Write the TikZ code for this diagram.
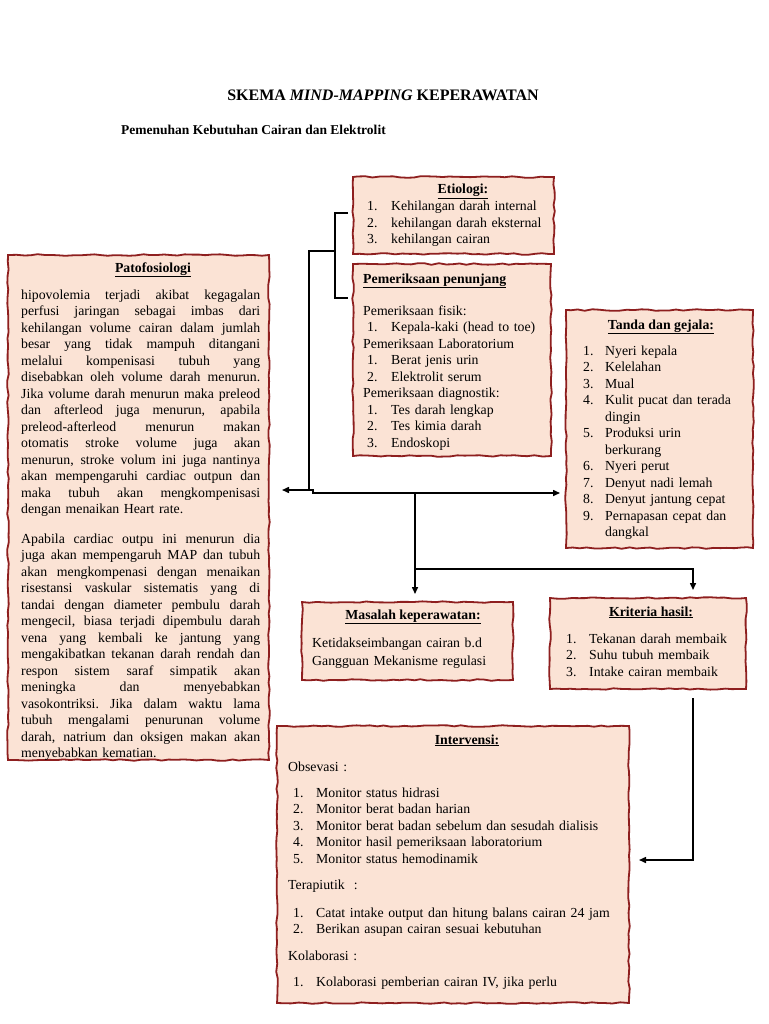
\documentclass[tikz,border=0pt]{standalone}
\usepackage{fontspec}
\setmainfont{Liberation Serif}
\usetikzlibrary{arrows.meta,decorations.pathmorphing}
\definecolor{boxfill}{HTML}{FBE3D5}
\definecolor{boxline}{HTML}{8E1F1F}
\newcommand\bodyfs{\fontsize{13.8}{16.5}\selectfont}
\newcommand\jline[1]{\leavevmode\hbox to 239pt{\spaceskip=3.4pt plus 20pt minus 1pt\xspaceskip=\spaceskip #1}}
\newcommand\numit[3]{\makebox[#1][l]{#2}#3}
\begin{document}
\begin{tikzpicture}[x=1pt,y=-1pt,
  box/.style={draw=boxline, fill=boxfill, line width=1.8pt, decorate,
    decoration={random steps,segment length=7pt,amplitude=0.8pt},
    inner sep=0pt, outer sep=0pt, anchor=north west},
  txt/.style={anchor=base west, inner sep=0pt, align=left, font=\bodyfs, text width=#1},
  txt/.default=300pt,
  ttl/.style={anchor=base, inner sep=0pt, font=\bodyfs\bfseries},
  conn/.style={line width=1.5pt, black},
  arr/.style={conn, -{Triangle[length=7pt,width=6pt]}}]
\pgfmathsetseed{7}
\useasboundingbox (0,0) rectangle (768,1024);
\fill[white] (0,0) rectangle (768,1024);

% titles
\node[anchor=base, inner sep=0pt, font=\fontsize{16}{18}\selectfont\bfseries] (title) at (383,101) {SKEMA \textit{MIND-MAPPING} KEPERAWATAN};
\node[anchor=base west, inner sep=0pt, font=\fontsize{13.5}{16}\selectfont\bfseries] (sub) at (121,135) {Pemenuhan Kebutuhan Cairan dan Elektrolit};

% boxes
\node[box, minimum width=201pt, minimum height=77pt] (eti) at (353,177) {};
\node[box, minimum width=198pt, minimum height=192pt] (pem) at (353,264) {};
\node[box, minimum width=261pt, minimum height=505pt] (pato) at (8,255) {};
\node[box, minimum width=187pt, minimum height=238pt] (tanda) at (566,310) {};
\node[box, minimum width=211pt, minimum height=78pt] (mas) at (302,602) {};
\node[box, minimum width=196pt, minimum height=91pt] (krit) at (550,598) {};
\node[box, minimum width=352pt, minimum height=277pt] (intv) at (277,726) {};

% Etiologi
\node[ttl] (etiT) at (463,194) {\underline{Etiologi:}};
\node[txt=185pt] (etiL) at (367,211) {\numit{24pt}{1.}{Kehilangan darah internal}\\
\numit{24pt}{2.}{kehilangan darah eksternal}\\
\numit{24pt}{3.}{kehilangan cairan}};

% Pemeriksaan penunjang
\node[anchor=base west, inner sep=0pt, font=\bodyfs\bfseries] (pemT) at (363,283) {\underline{Pemeriksaan penunjang}};
\node[txt=185pt] (pemL) at (363,315) {Pemeriksaan fisik:\\
\hspace*{4pt}\numit{24pt}{1.}{Kepala-kaki (head to toe)}\\
Pemeriksaan Laboratorium\\
\hspace*{4pt}\numit{24pt}{1.}{Berat jenis urin}\\
\hspace*{4pt}\numit{24pt}{2.}{Elektrolit serum}\\
Pemeriksaan diagnostik:\\
\hspace*{4pt}\numit{24pt}{1.}{Tes darah lengkap}\\
\hspace*{4pt}\numit{24pt}{2.}{Tes kimia darah}\\
\hspace*{4pt}\numit{24pt}{3.}{Endoskopi}};

% Patofosiologi
\node[ttl] (patoT) at (153,272) {\underline{Patofosiologi}};
\node[txt=245pt] (patoP1) at (21,299) {\jline{hipovolemia terjadi akibat kegagalan}\\
\jline{perfusi jaringan sebagai imbas dari}\\
\jline{kehilangan volume cairan dalam jumlah}\\
\jline{besar yang tidak mampuh ditangani}\\
\jline{melalui kompenisasi tubuh yang}\\
\jline{disebabkan oleh volume darah menurun.}\\
\jline{Jika volume darah menurun maka preleod}\\
\jline{dan afterleod juga menurun, apabila}\\
\jline{preleod-afterleod menurun makan}\\
\jline{otomatis stroke volume juga akan}\\
\jline{menurun, stroke volum ini juga nantinya}\\
\jline{akan mempengaruhi cardiac outpun dan}\\
\jline{maka tubuh akan mengkompenisasi}\\
dengan menaikan Heart rate.};
\node[txt=245pt] (patoP2) at (21,543) {\jline{Apabila cardiac outpu ini menurun dia}\\
\jline{juga akan mempengaruh MAP dan tubuh}\\
\jline{akan mengkompenasi dengan menaikan}\\
\jline{risestansi vaskular sistematis yang di}\\
\jline{tandai dengan diameter pembulu darah}\\
\jline{mengecil, biasa terjadi dipembulu darah}\\
\jline{vena yang kembali ke jantung yang}\\
\jline{mengakibatkan tekanan darah rendah dan}\\
\jline{respon sistem saraf simpatik akan}\\
\jline{meningka dan menyebabkan}\\
\jline{vasokontriksi. Jika dalam waktu lama}\\
\jline{tubuh mengalami penurunan volume}\\
\jline{darah, natrium dan oksigen makan akan}\\
menyebabkan kematian.};

% Tanda dan gejala
\node[ttl] (tandaT) at (661,329) {\underline{Tanda dan gejala:}};
\node[txt=170pt] (tandaL) at (583,355) {\numit{22pt}{1.}{Nyeri kepala}\\
\numit{22pt}{2.}{Kelelahan}\\
\numit{22pt}{3.}{Mual}\\
\numit{22pt}{4.}{Kulit pucat dan terada}\\
\hspace*{22pt}dingin\\
\numit{22pt}{5.}{Produksi urin}\\
\hspace*{22pt}berkurang\\
\numit{22pt}{6.}{Nyeri perut}\\
\numit{22pt}{7.}{Denyut nadi lemah}\\
\numit{22pt}{8.}{Denyut jantung cepat}\\
\numit{22pt}{9.}{Pernapasan cepat dan}\\
\hspace*{22pt}dangkal};

% Masalah keperawatan
\node[ttl] (masT) at (413,619) {\underline{Masalah keperawatan:}};
\node[txt=200pt] (masL) at (312,647) {Ketidakseimbangan cairan b.d\\[1.5pt]
Gangguan Mekanisme regulasi};

% Kriteria hasil
\node[ttl] (kritT) at (651,616) {\underline{Kriteria hasil:}};
\node[txt=180pt] (kritL) at (566,643) {\numit{23pt}{1.}{Tekanan darah membaik}\\
\numit{23pt}{2.}{Suhu tubuh membaik}\\
\numit{23pt}{3.}{Intake cairan membaik}};

% Intervensi
\node[ttl] (intvT) at (467,744) {\underline{Intervensi:}};
\node[txt=335pt] (intvL) at (288,771) {Obsevasi :\\[9.5pt]
\hspace*{5pt}\numit{23pt}{1.}{Monitor status hidrasi}\\
\hspace*{5pt}\numit{23pt}{2.}{Monitor berat badan harian}\\
\hspace*{5pt}\numit{23pt}{3.}{Monitor berat badan sebelum dan sesudah dialisis}\\
\hspace*{5pt}\numit{23pt}{4.}{Monitor hasil pemeriksaan laboratorium}\\
\hspace*{5pt}\numit{23pt}{5.}{Monitor status hemodinamik}\\[10pt]
Terapiutik~ :\\[11pt]
\hspace*{5pt}\numit{23pt}{1.}{Catat intake output dan hitung balans cairan 24 jam}\\
\hspace*{5pt}\numit{23pt}{2.}{Berikan asupan cairan sesuai kebutuhan}\\[10pt]
Kolaborasi :\\[9.5pt]
\hspace*{5pt}\numit{23pt}{1.}{Kolaborasi pemberian cairan IV, jika perlu}};

% connectors
\coordinate (bt) at (348,213);
\coordinate (bb) at (348,298);
\coordinate (bm) at (335,251);
\coordinate (jL) at (309,251);
\coordinate (j1) at (309,490);
\coordinate (pL) at (282,490);
\coordinate (j2) at (313,493);
\coordinate (tR) at (560,493);
\coordinate (j3) at (415,493);
\coordinate (mT) at (415,594);
\coordinate (j4) at (415,569);
\coordinate (kT) at (693,590);
\coordinate (kB) at (693,698);
\coordinate (iR) at (639,860);

\draw[conn] (bt) -- (bt -| bm) -- (bb -| bm) -- (bb);
\draw[arr] (bm) -- (jL) -- (j1) -- (pL);
\draw[arr] (j1) -| (j2) -- (tR);
\draw[arr] (j3) -- (mT);
\draw[arr] (j4) -| (kT);
\draw[arr] (kB) |- (iR);
\end{tikzpicture}
\end{document}
